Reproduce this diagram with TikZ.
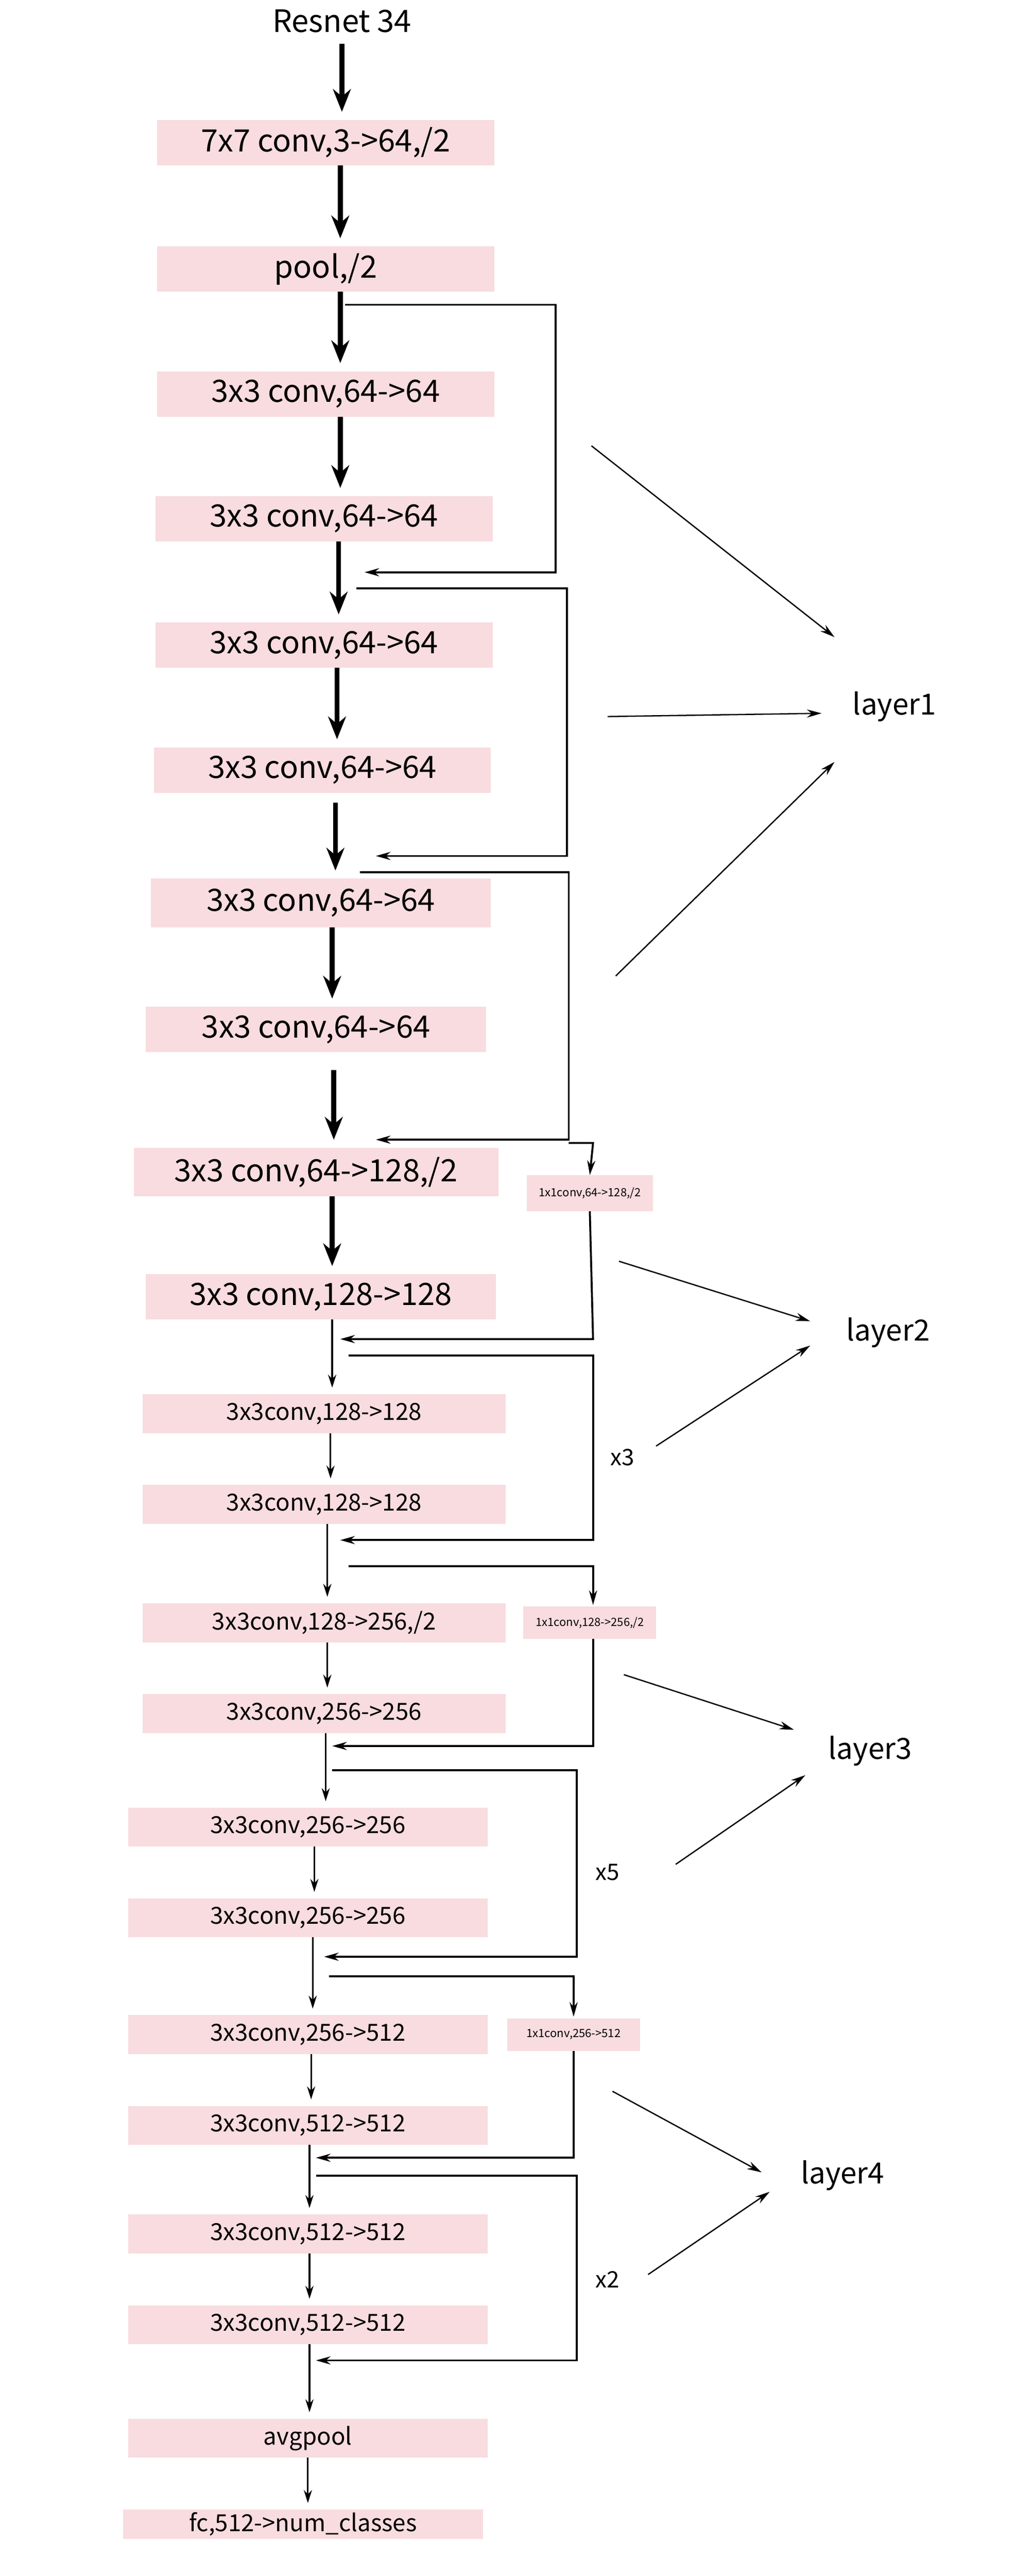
\documentclass[tikz,border=0pt]{standalone}
\usepackage{fontspec}
\setmainfont{Noto Sans CJK SC}
\usetikzlibrary{arrows.meta}
\definecolor{bx}{HTML}{F8DCDF}
\begin{document}
\begin{tikzpicture}[x=1pt,y=-1pt,
 B/.style={fill=bx,inner sep=0,anchor=center,font=\fontsize{19}{19}\selectfont},
 S/.style={fill=bx,inner sep=0,anchor=center,font=\fontsize{14.5}{15}\selectfont},
 T/.style={fill=bx,inner sep=0,anchor=center,font=\fontsize{7}{7}\selectfont},
 thick arr/.style={line width=3pt,-{Stealth[length=14pt,width=11pt]},shorten >=3pt},
 thin arr/.style={line width=1pt,-{Stealth[length=8pt,width=5pt]},shorten >=2pt},
 sk/.style={line width=1.2pt,-{Stealth[length=9pt,width=5pt]}},
 la/.style={line width=0.8pt,-{Stealth[length=9pt,width=5pt]}},
 lbl/.style={font=\fontsize{18}{18}\selectfont}]
\useasboundingbox (0,0) rectangle (627,1589);
\node[font=\fontsize{19}{19}\selectfont] (t) at (211,13) {Resnet 34};
\node[B,minimum width=208,minimum height=28] (b1) at (201,88) {7x7 conv,3->64,/2};
\node[B,minimum width=208,minimum height=28] (b2) at (201,166) {pool,/2};
\node[B,minimum width=208,minimum height=28] (b3) at (201,243) {3x3 conv,64->64};
\node[B,minimum width=208,minimum height=28] (b4) at (200,320) {3x3 conv,64->64};
\node[B,minimum width=208,minimum height=28] (b5) at (200,398) {3x3 conv,64->64};
\node[B,minimum width=208,minimum height=28] (b6) at (199,475) {3x3 conv,64->64};
\node[B,minimum width=210,minimum height=30] (b7) at (198,557) {3x3 conv,64->64};
\node[B,minimum width=210,minimum height=28] (b8) at (195,635) {3x3 conv,64->64};
\node[B,minimum width=225,minimum height=30] (b9) at (195,723) {3x3 conv,64->128,/2};
\node[B,minimum width=216,minimum height=28] (b10) at (198,800) {3x3 conv,128->128};
\node[S,minimum width=224,minimum height=24] (b11) at (200,872) {3x3conv,128->128};
\node[S,minimum width=224,minimum height=24] (b12) at (200,928) {3x3conv,128->128};
\node[S,minimum width=224,minimum height=24] (b13) at (200,1001) {3x3conv,128->256,/2};
\node[S,minimum width=224,minimum height=24] (b14) at (200,1057) {3x3conv,256->256};
\node[S,minimum width=222,minimum height=24] (b15) at (190,1127) {3x3conv,256->256};
\node[S,minimum width=222,minimum height=24] (b16) at (190,1183) {3x3conv,256->256};
\node[S,minimum width=222,minimum height=24] (b17) at (190,1255) {3x3conv,256->512};
\node[S,minimum width=222,minimum height=24] (b18) at (190,1311) {3x3conv,512->512};
\node[S,minimum width=222,minimum height=24] (b19) at (190,1378) {3x3conv,512->512};
\node[S,minimum width=222,minimum height=24] (b20) at (190,1434) {3x3conv,512->512};
\node[S,minimum width=222,minimum height=24] (b21) at (190,1504) {avgpool};
\node[S,minimum width=222,minimum height=18] (b22) at (187,1557) {fc,512->num\_classes};
\node[T,minimum width=78,minimum height=22] (s1) at (364,736) {1x1conv,64->128,/2};
\node[T,minimum width=82,minimum height=20] (s2) at (364,1001) {1x1conv,128->256,/2};
\node[T,minimum width=82,minimum height=20] (s3) at (354,1255) {1x1conv,256->512};
% trunk
\draw[thick arr] (211,27) -- (211,72);
\draw[thick arr] (210,102) -- (210,150);
\draw[thick arr] (210,180) -- (210,227);
\draw[thick arr] (210,257) -- (210,304);
\draw[thick arr] (209,334) -- (209,382);
\draw[thick arr] (208,412) -- (208,459);
\draw[thick arr] (207,495) -- (207,540);
\draw[thick arr] (205,572) -- (205,619);
\draw[thick arr] (206,660) -- (206,706);
\draw[thick arr] (205,738) -- (205,784);
\draw[thin arr,line width=1.5pt] (205,814) -- (205,858);
\draw[thin arr] (204,884) -- (204,914);
\draw[thin arr] (202,940) -- (202,987);
\draw[thin arr] (202,1013) -- (202,1043);
\draw[thin arr] (201,1069) -- (201,1113);
\draw[thin arr] (194,1139) -- (194,1169);
\draw[thin arr] (193,1195) -- (193,1241);
\draw[thin arr] (192,1267) -- (192,1297);
\draw[thin arr] (191,1323) -- (191,1364);
\draw[thin arr] (191,1390) -- (191,1420);
\draw[thin arr] (191,1446) -- (191,1490);
\draw[thin arr] (190,1516) -- (190,1546);
% skips
\coordinate (k1) at (213,188); \coordinate (e1) at (225,353);
\draw[sk] (k1) -- (343,188) -- (343,353) -- (e1);
\coordinate (k2) at (220,363); \coordinate (e2) at (232,528);
\draw[sk] (k2) -- (350,363) -- (350,528) -- (e2);
\coordinate (k3) at (222,538); \coordinate (e3) at (232,703);
\draw[sk] (k3) -- (351,538) -- (351,703) -- (e3);
\draw[sk] (351,705) -- (366,705) -- (s1.north);
\coordinate (e4) at (210,826);
\draw[sk] (s1.south) -- (366,826) -- (e4);
\coordinate (k5) at (215,836); \coordinate (e5) at (210,950);
\draw[sk] (k5) -- (366,836) -- (366,950) -- (e5);
\coordinate (k6) at (215,966);
\draw[sk] (k6) -- (366,966) -- (366,990);
\coordinate (e6) at (205,1077);
\draw[sk] (366,1011) -- (366,1077) -- (e6);
\coordinate (k7) at (205,1092); \coordinate (e7) at (200,1207);
\draw[sk] (k7) -- (356,1092) -- (356,1207) -- (e7);
\coordinate (k8) at (203,1219);
\draw[sk] (k8) -- (354,1219) -- (354,1244);
\coordinate (e8) at (195,1331);
\draw[sk] (354,1265) -- (354,1331) -- (e8);
\coordinate (k9) at (195,1342); \coordinate (e9) at (195,1456);
\draw[sk] (k9) -- (356,1342) -- (356,1456) -- (e9);
% layer labels
\node[lbl] (L1) at (552,436) {layer1};
\node[lbl] (L2) at (548,822) {layer2};
\node[lbl] (L3) at (537,1080) {layer3};
\node[lbl] (L4) at (520,1342) {layer4};
\node[font=\fontsize{14}{14}\selectfont] (x3) at (384,899) {x3};
\node[font=\fontsize{14}{14}\selectfont] (x5) at (375,1155) {x5};
\node[font=\fontsize{14}{14}\selectfont] (x2) at (375,1406) {x2};
\coordinate (a1) at (365,275); \coordinate (a2) at (375,442); \coordinate (a3) at (380,602);
\draw[la] (a1) -- (515,393);
\draw[la] (a2) -- (507,440);
\draw[la] (a3) -- (515,470);
\coordinate (c1) at (382,778);
\draw[la] (c1) -- (500,815);
\draw[la] (x3.east) ++(10,-7) -- (500,830);
\coordinate (d1) at (385,1033);
\draw[la] (d1) -- (490,1067);
\draw[la] (417,1150) -- (497,1095);
\coordinate (f1) at (378,1290);
\draw[la] (f1) -- (470,1340);
\draw[la] (400,1403) -- (475,1352);
\end{tikzpicture}
\end{document}
